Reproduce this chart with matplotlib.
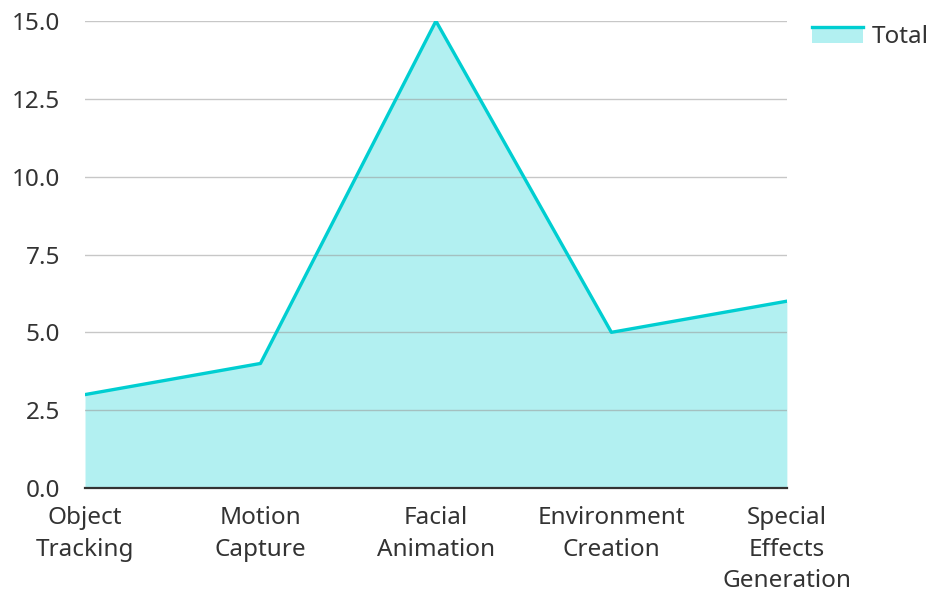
import matplotlib
matplotlib.use("Agg")
import matplotlib.pyplot as plt
from matplotlib.legend_handler import HandlerBase
from matplotlib.patches import Rectangle
from matplotlib.lines import Line2D

categories = ["Object\nTracking", "Motion\nCapture", "Facial\nAnimation",
              "Environment\nCreation", "Special\nEffects\nGeneration"]
totals = [3, 4, 15, 5, 6]
yticks = [0.0, 2.5, 5.0, 7.5, 10.0, 12.5, 15.0]

line_color = "#00CED1"
text_color = "#333333"
fsize = 17.5

plt.rcParams["font.family"] = ["Noto Sans", "DejaVu Sans"]

fig = plt.figure(figsize=(9.29, 5.92), dpi=100)
ax = fig.add_axes([0.0915, 0.1757, 0.7555, 0.7888])

x = list(range(len(categories)))
ax.fill_between(x, totals, color=line_color, alpha=0.3, linewidth=0, zorder=1)
ax.plot(x, totals, color=line_color, linewidth=2.4, zorder=3)

ax.set_xlim(0, len(categories) - 1)
ax.set_ylim(0, 15)
ax.set_yticks(yticks)
ax.set_yticklabels([f"{v:.1f}" for v in yticks])
ax.set_xticks(x)
ax.set_xticklabels(categories, linespacing=1.42)
ax.tick_params(axis="both", length=0, labelsize=fsize, colors=text_color)
ax.tick_params(axis="y", pad=18)
ax.tick_params(axis="x", pad=13)

ax.grid(axis="y", color="#999999", alpha=0.55, linewidth=1, zorder=2)
ax.set_axisbelow(False)
for s in ["top", "right", "left"]:
    ax.spines[s].set_visible(False)
ax.spines["bottom"].set_color("#333333")
ax.spines["bottom"].set_linewidth(1.6)
ax.spines["bottom"].set_zorder(4)


class AreaHandler(HandlerBase):
    def create_artists(self, legend, orig_handle, xdescent, ydescent,
                       width, height, fontsize, trans):
        rect = Rectangle((-xdescent, -ydescent), width, height,
                         facecolor=line_color, alpha=0.3, linewidth=0,
                         transform=trans)
        top = -ydescent + height
        ln = Line2D([-xdescent, -xdescent + width], [top, top],
                    color=line_color, linewidth=2.4, transform=trans)
        return [rect, ln]


handle = Rectangle((0, 0), 1, 1)
leg = fig.legend([handle], ["Total"], handler_map={Rectangle: AreaHandler()},
                 loc="upper left", bbox_to_anchor=(0.8536, 0.99),
                 frameon=False, fontsize=fsize, handlelength=2.06,
                 handleheight=0.62, handletextpad=0.4, borderpad=0.3)
for t in leg.get_texts():
    t.set_color(text_color)

fig.savefig("out.png", dpi=100)
